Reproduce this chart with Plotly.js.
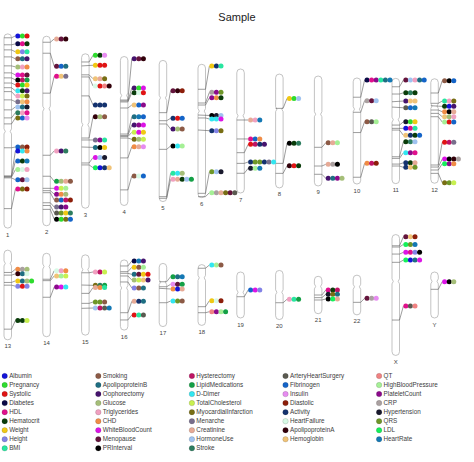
<!DOCTYPE html>
<html>
<head>
<meta charset="utf-8">
<script src="https://cdn.plot.ly/plotly-3.0.1.min.js"></script>
<style>html,body{margin:0;padding:0;background:#fff;}#chart{width:474px;height:462px;}</style>
</head>
<body>
<div id="chart"></div>
<script>
// ---------------- DATA ----------------
const chromosomes = ['1','2','3','4','5','6','7','8','9','10','11','12','13','14','15','16','17','18','19','20','21','22','X','Y'];
const chrLengths = [249,243,198,191,181,171,159,146,141,136,135,134,115,107,103,90,81,78,59,63,48,51,155,59];
const centromeres = [125,93,91,50,48,60,60,45,49,40,53,35,17,17,19,36,24,17,26,28,13,15,60,12];

const phenotypes = ['Albumin','Pregnancy','Systolic','Diabetes','HDL','Hematocrit','Weight','Height','BMI',
  'Smoking','ApolipoproteinB','Oophorectomy','Glucose','Triglycerides','CHD','WhiteBloodCount','Menopause','PRInterval',
  'Hysterectomy','LipidMedications','D-Dimer','TotalCholesterol','MyocardialInfarction','Menarche','Creatinine','HormoneUse','Stroke',
  'ArteryHeartSurgery','Fibrinogen','Insulin','Diastolic','Activity','HeartFailure','ApolipoproteinA','Hemoglobin',
  'QT','HighBloodPressure','PlateletCount','CRP','Hypertension','QRS','LDL','HeartRate'];
const phenoColors = ['#1414d8','#2edc2e','#e01414','#0a0a46','#e0108c','#0a3c0a','#f0c814','#8282e6','#28e6a0',
  '#8c5a46','#1e6e82','#46146e','#a5be78','#f0a0c0','#f08c46','#dc14e6','#64143c','#000000',
  '#be1464','#14a046','#32e6f0','#c8f050','#786e14','#786e8c','#e6aa96','#a0c3f0','#2d7d5f',
  '#5a5a50','#1464c8','#e68cf0','#8c1e0a','#14326e','#d7fae6','#32000a','#f0c378',
  '#f08282','#a5f096','#8c0a8c','#aaa0a0','#19192d','#6e9628','#14f05a','#1478b4'];
const legendColumnSizes = [9, 9, 9, 8, 8];

// SNPs: chromosome, SNP position (Mb), label row position (Mb), phenotypes
const snpChr = [
 '1','1','1','1','1','1','1','1','1','1','1','1','1','1','1','1','1','1','1','1',
 '2','2','2','2','2','2','2','2','2','2','2',
 '3','3','3','3','3','3','3','3','3','3',
 '4','4','4','4','4','4','4','4','4','4',
 '5','5','5','5','5','5',
 '6','6','6','6','6','6','6','6',
 '7','7','7','7','7',
 '8','8','8',
 '9','9','9',
 '10','10','10','10',
 '11','11','11','11','11','11','11','11','11','11','11',
 '12','12','12','12','12','12','12','12','12','12',
 '13','13','13','13','13',
 '14','14','14',
 '15','15','15','15','15',
 '16','16','16','16','16','16','16',
 '17','17','17','17',
 '18','18','18',
 '19','20','21','21','21','22',
 'X','X','X','X','X','Y'];
const snpPos = [
 5,14,20.5,29.5,41,50,56.4,63,69,74,84.6,97.4,107.7,115.4,146,182,183,183.5,184.6,224,
 7.7,21.8,73,152.6,179.5,195,198,200.6,213.5,217,222,
 10.5,15.6,27,29.7,54,108,110.5,119.5,140,142.5,
 55.8,57,58.3,66,99.4,101.3,102.6,104.5,130,171,
 67,77.3,81.5,114,174.7,176.8,
 32,49.6,52.2,65,68.8,84.2,165.4,169.7,
 65.4,89.7,107.3,121,133.7,
 44,114.5,127.3,
 91.4,115.4,126,
 24.7,44,70,127.3,
 10.8,20.1,30,36.8,59.9,64.1,66.3,100.5,102.6,109.9,112.4,
 18.3,31.5,34.6,40.1,44.4,48.7,110.6,113.2,117,121.3,
 28.6,32,41.4,44.9,101.3,
 33.3,35.1,56.4,
 23,38.7,49.4,62.2,68.6,
 7.8,15.1,17.2,20.6,28.3,67.7,77,
 23.5,29.9,31.9,50.4,
 4.7,54,61.7,
 31.7,41.4,24,27.4,30.4,34.9,
 14.4,16,25,35.6,109.6,22.2];
const labelPos = [
 2.6,12.8,23,32,42.3,52.6,59,65.4,73,79.5,87,93.6,101,107.7,145,150,163,174,187,199,
 3.5,38.5,51.3,147,186,195,202.5,210,219,226.5,234.6,
 2,14.7,32,41.3,65.6,80.6,110.5,120,133,146,
 2.8,40.4,46.4,62.2,77.2,87.8,97.2,106.2,115.6,153.2,
 38.8,74.2,88,109.7,144.7,152.4,
 2.2,35.9,42.8,65.6,70.1,85.1,137.7,164.6,
 65.4,89.7,96.5,119.2,127.3,
 31.2,88.8,117.6,
 85.5,113.2,131.2,
 2.6,29.1,56,109.4,
 2.2,18.5,29.1,37.7,55.6,64.1,73.1,81.3,95.4,108.2,114.1,
 2.6,28.6,35.4,42.3,48.7,55.5,81.5,103,109,133.3,
 24.4,30.4,39.4,46.2,90.1,
 22.3,29.1,43.2,
 22,39.1,41.9,60.5,68.2,
 1.4,9.5,18.5,25.8,36,53.1,70.6,
 17,26.8,32.8,48.2,
 0.5,46.3,60.4,
 23,37,17.6,23.1,29.1,29.7,
 2.8,12.6,22.8,32.7,91.7,12.4];
const snpPhenotypes = [
 ['Albumin','Pregnancy','Systolic'],['Diabetes','HDL','Hematocrit'],['Weight','Height','BMI'],
 ['Smoking','ApolipoproteinB','Oophorectomy'],['Glucose','Triglycerides','CHD'],['WhiteBloodCount','HDL','Menopause'],
 ['PRInterval','Hysterectomy','LipidMedications'],['Systolic','Pregnancy','Weight'],['D-Dimer','Hematocrit','Oophorectomy'],
 ['Triglycerides','TotalCholesterol','MyocardialInfarction'],['Menarche','Hemoglobin','CHD'],['HormoneUse','ApolipoproteinB','Hypertension'],
 ['Stroke','Triglycerides','HDL'],['MyocardialInfarction','Fibrinogen','Insulin'],
 ['Fibrinogen','Smoking','Diastolic'],['Albumin','D-Dimer','CHD'],['Fibrinogen','Hematocrit','HeartRate'],
 ['HighBloodPressure','HeartFailure','Triglycerides'],['Fibrinogen','Menopause','HormoneUse'],['HDL','MyocardialInfarction','Diastolic'],
 // 2
 ['Creatinine','Menopause','ApolipoproteinA'],['Menopause','Fibrinogen','ApolipoproteinB'],['HDL','Hemoglobin','Menarche'],
 ['Triglycerides','Oophorectomy','Stroke'],['LipidMedications','Glucose','Creatinine','Smoking'],['WhiteBloodCount','TotalCholesterol','HighBloodPressure'],
 ['PlateletCount','CHD','Glucose'],['Smoking','Fibrinogen','Hysterectomy','Diastolic'],['Menarche','Oophorectomy','PlateletCount'],
 ['ArteryHeartSurgery','QRS','Weight','Stroke'],['PRInterval','Pregnancy','MyocardialInfarction','Fibrinogen'],
 // 3
 ['Pregnancy','Hematocrit','Insulin'],['Weight','Systolic','Systolic'],['Hemoglobin','Creatinine','MyocardialInfarction'],
 ['HeartFailure','Systolic','QT','ApolipoproteinA'],['Activity','Activity','Activity'],['ApolipoproteinA','Glucose','Smoking'],
 ['Menarche','PlateletCount','BMI'],['ApolipoproteinB','PRInterval','Weight'],['WhiteBloodCount','HormoneUse','Hypertension'],
 ['LDL','Albumin','Activity','Hemoglobin'],
 // 4
 ['Oophorectomy','Menopause','ApolipoproteinA'],['Oophorectomy','Pregnancy','WhiteBloodCount'],['Hematocrit','HeartFailure','Systolic'],
 ['Hemoglobin','Fibrinogen','PlateletCount'],['ApolipoproteinB','HeartRate','Fibrinogen'],['Oophorectomy','PlateletCount','WhiteBloodCount'],
 ['TotalCholesterol','WhiteBloodCount','Weight'],['MyocardialInfarction','Glucose','TotalCholesterol'],['CHD','Creatinine','Insulin'],
 ['Smoking','HeartFailure','Fibrinogen'],
 // 5
 ['Menopause','ApolipoproteinA','Diastolic'],['Activity','Systolic','Fibrinogen'],['Oophorectomy','Glucose','Smoking'],
 ['PRInterval','D-Dimer','HighBloodPressure'],['BMI','D-Dimer','Glucose'],['Triglycerides','Creatinine','Hematocrit','HormoneUse','LipidMedications'],
 // 6
 ['Weight','Activity','BMI'],['CRP','PlateletCount','QRS'],['PlateletCount','CHD','Hematocrit'],
 ['PRInterval','Hypertension','HormoneUse'],['D-Dimer','D-Dimer','WhiteBloodCount'],['Activity','Height','MyocardialInfarction'],
 ['QRS','HormoneUse','Hypertension'],['HighBloodPressure','CRP','Creatinine','MyocardialInfarction','Menopause','ArteryHeartSurgery'],
 // 7
 ['Creatinine','Triglycerides','HeartRate'],['HDL','Fibrinogen','CHD'],['Systolic','Hysterectomy','Activity','Oophorectomy'],
 ['Activity','QRS','QRS','Activity','Menarche','D-Dimer'],['Hypertension','HighBloodPressure','HeartRate'],
 // 8
 ['Weight','Pregnancy','HormoneUse'],['PRInterval','Hematocrit','Stroke'],['ApolipoproteinA','Systolic','Hematocrit'],
 // 9
 ['Smoking','Creatinine','HighBloodPressure'],['Creatinine','CRP','PRInterval'],['Oophorectomy','ApolipoproteinB','PlateletCount','Glucose'],
 // 10
 ['Diabetes','HDL','PlateletCount','BMI','ApolipoproteinB','HeartRate'],['CRP','Menopause','HormoneUse'],
 ['Smoking','ArteryHeartSurgery','HighBloodPressure'],['CHD','Hysterectomy','Diastolic'],
 // 11
 ['Menopause','HormoneUse','Triglycerides','ApolipoproteinB','Fibrinogen'],['Hematocrit','Stroke','Hematocrit'],
 ['Oophorectomy','Hemoglobin','Hemoglobin'],['ArteryHeartSurgery','Fibrinogen','HeartRate'],['Hypertension','Pregnancy','Weight'],
 ['Albumin','HDL','BMI'],['Hemoglobin','Activity','Hematocrit','Fibrinogen'],['Hematocrit','Stroke','HormoneUse'],
 ['D-Dimer','PlateletCount','HDL'],['Activity','Hematocrit','Creatinine'],['Activity','Hemoglobin','QRS'],
 // 12
 ['Smoking','PRInterval','Fibrinogen'],['BMI','Triglycerides','MyocardialInfarction'],['Hematocrit','Albumin','Oophorectomy'],
 ['CHD','PRInterval','Creatinine'],['Hemoglobin','Glucose','Triglycerides'],['HighBloodPressure','Systolic','Fibrinogen'],
 ['Systolic','Hysterectomy','Menarche'],['WhiteBloodCount','PRInterval','ApolipoproteinA','CRP'],['LDL','PlateletCount','CHD'],
 ['MyocardialInfarction','QRS','TotalCholesterol'],
 // 13
 ['CHD','CRP','Glucose'],['ApolipoproteinA','ApolipoproteinB','HeartFailure'],['Weight','ApolipoproteinB','Glucose','Pregnancy'],
 ['Height','Systolic','Height'],['Hematocrit','Hematocrit','TotalCholesterol'],
 // 14
 ['HeartFailure','Triglycerides','CHD'],['Hemoglobin','HighBloodPressure','TotalCholesterol'],['PlateletCount','WhiteBloodCount','D-Dimer'],
 // 15
 ['Triglycerides','Hysterectomy','TotalCholesterol'],['MyocardialInfarction','Stroke','LipidMedications'],['Creatinine','CHD','BMI'],
 ['QRS','QRS','Smoking'],['HormoneUse','Hysterectomy','ArteryHeartSurgery','HeartRate'],
 // 16
 ['Diabetes','HeartRate','Oophorectomy'],['Weight','Smoking','HighBloodPressure'],['ApolipoproteinB','Menopause','Weight','Systolic'],
 ['Glucose','TotalCholesterol','Hemoglobin','Oophorectomy'],['Height','Smoking','ApolipoproteinB'],['Creatinine','Activity','ApolipoproteinB'],
 ['Systolic','BMI','ArteryHeartSurgery'],
 // 17
 ['LipidMedications','ApolipoproteinB','HeartRate'],['Insulin','Menopause','LipidMedications'],['CHD','Albumin','Creatinine'],
 ['D-Dimer','QRS','Smoking'],
 // 18
 ['D-Dimer','HighBloodPressure','Smoking'],['Weight','HeartFailure','Diastolic'],['QT','PlateletCount','HighBloodPressure','LipidMedications'],
 // 19, 20, 21, 22
 ['Fibrinogen','WhiteBloodCount','Height'],['Triglycerides','BMI','LipidMedications'],
 ['HDL','Hematocrit','Hysterectomy'],['Hypertension','MyocardialInfarction','ApolipoproteinB'],['PRInterval','LDL','Creatinine'],
 ['Menopause','CRP','Insulin'],
 // X, Y
 ['Menopause','Hemoglobin','Diastolic'],['LDL','QRS','HeartRate'],['WhiteBloodCount','HDL','Height','PRInterval'],
 ['LDL','Albumin','ApolipoproteinB','WhiteBloodCount'],['HDL','ArteryHeartSurgery','QT'],
 ['WhiteBloodCount','PRInterval','Glucose']];

// ---------------- LAYOUT HELPERS ----------------
const W = 474, H = 462;
const SLOT = 38.8, X0 = 4, PXMB = 0.78;
const rowCenterPx = [131, 295];
const chrW = 7.5 / SLOT;
const yUnit = px => px / PXMB;
const xUnit = px => (px - X0) / SLOT;
const colorOf = name => phenoColors[phenotypes.indexOf(name)];

function geom(i) {
  const row = i < 12 ? 0 : 1;
  const slot = i % 12;
  const top = yUnit(rowCenterPx[row]) - chrLengths[i] / 2;
  return {x0: slot, x1: slot + chrW, top: top, bot: top + chrLengths[i], cen: top + centromeres[i]};
}

const shapes = [];
const labX = [], labY = [], labT = [];
chromosomes.forEach((c, i) => {
  const g = geom(i);
  const xm = (g.x0 + g.x1) / 2, rv = yUnit(3.75), d = 1.3 / SLOT, ph = yUnit(2.5);
  const p = `M${g.x0},${g.top + rv} L${g.x0},${g.cen - ph} L${g.x0 + d},${g.cen} L${g.x0},${g.cen + ph} ` +
    `L${g.x0},${g.bot - rv} Q${g.x0},${g.bot} ${xm},${g.bot} Q${g.x1},${g.bot} ${g.x1},${g.bot - rv} ` +
    `L${g.x1},${g.cen + ph} L${g.x1 - d},${g.cen} L${g.x1},${g.cen - ph} L${g.x1},${g.top + rv} ` +
    `Q${g.x1},${g.top} ${xm},${g.top} Q${g.x0},${g.top} ${g.x0},${g.top + rv} Z`;
  shapes.push({type: 'path', path: p, xref: 'x', yref: 'y', layer: 'below',
    line: {color: '#b4b4b4', width: 0.8}, fillcolor: 'rgba(255,255,255,0)'});
  labX.push(xm); labY.push(g.bot + yUnit(7)); labT.push(c);
});

const lx = [], ly = [], cx = [], cy = [], cc = [];
snpChr.forEach((c, k) => {
  const g = geom(chromosomes.indexOf(c));
  const ys = g.top + snpPos[k], yl = g.top + labelPos[k];
  const first = g.x0 + 13.8 / SLOT;
  lx.push(g.x0, g.x1, first - 2.4 / SLOT, null);
  ly.push(ys, ys, yl, null);
  snpPhenotypes[k].forEach((p, j) => {
    cx.push(first + j * 4.6 / SLOT); cy.push(yl); cc.push(colorOf(p));
  });
});

const legX = [], legY = [], legC = [], legT = [];
let idx = 0;
legendColumnSizes.forEach((n, col) => {
  for (let row = 0; row < n; row++, idx++) {
    legX.push(xUnit(4.7 + 93.6 * col)); legY.push(yUnit(376 + 9.04 * row));
    legC.push(phenoColors[idx]); legT.push(phenotypes[idx]);
  }
});

const font = 'Liberation Sans, Arial, sans-serif';
const traces = [
  {type: 'scatter', mode: 'lines', x: lx, y: ly, line: {color: '#5a5a5a', width: 0.6}, hoverinfo: 'skip'},
  {type: 'scatter', mode: 'markers', x: cx, y: cy, marker: {size: 5, color: cc, line: {width: 0}}, hoverinfo: 'skip'},
  {type: 'scatter', mode: 'text', x: labX, y: labY, text: labT, textposition: 'middle center',
    textfont: {family: font, size: 6, color: '#444'}, hoverinfo: 'skip'},
  {type: 'scatter', mode: 'markers+text', x: legX, y: legY, text: legT, textposition: 'middle right',
    marker: {size: 5.5, color: legC, line: {width: 0.5, color: 'rgba(0,0,0,0.25)'}},
    textfont: {family: font, size: 6.3, color: '#3c3c3c'}, hoverinfo: 'skip'}
];

const layout = {
  width: W, height: H,
  margin: {l: 0, r: 0, t: 0, b: 0},
  paper_bgcolor: '#fff', plot_bgcolor: '#fff',
  showlegend: false, hovermode: false,
  title: {text: 'Sample', x: 0.5, xanchor: 'center', y: 1 - 17 / H, yanchor: 'middle',
    font: {family: font, size: 11, color: '#222'}},
  xaxis: {range: [xUnit(0), xUnit(W)], visible: false, fixedrange: true},
  yaxis: {range: [yUnit(H), 0], visible: false, fixedrange: true},
  shapes: shapes
};

Plotly.newPlot('chart', traces, layout, {staticPlot: true, displayModeBar: false});
</script>
</body>
</html>
